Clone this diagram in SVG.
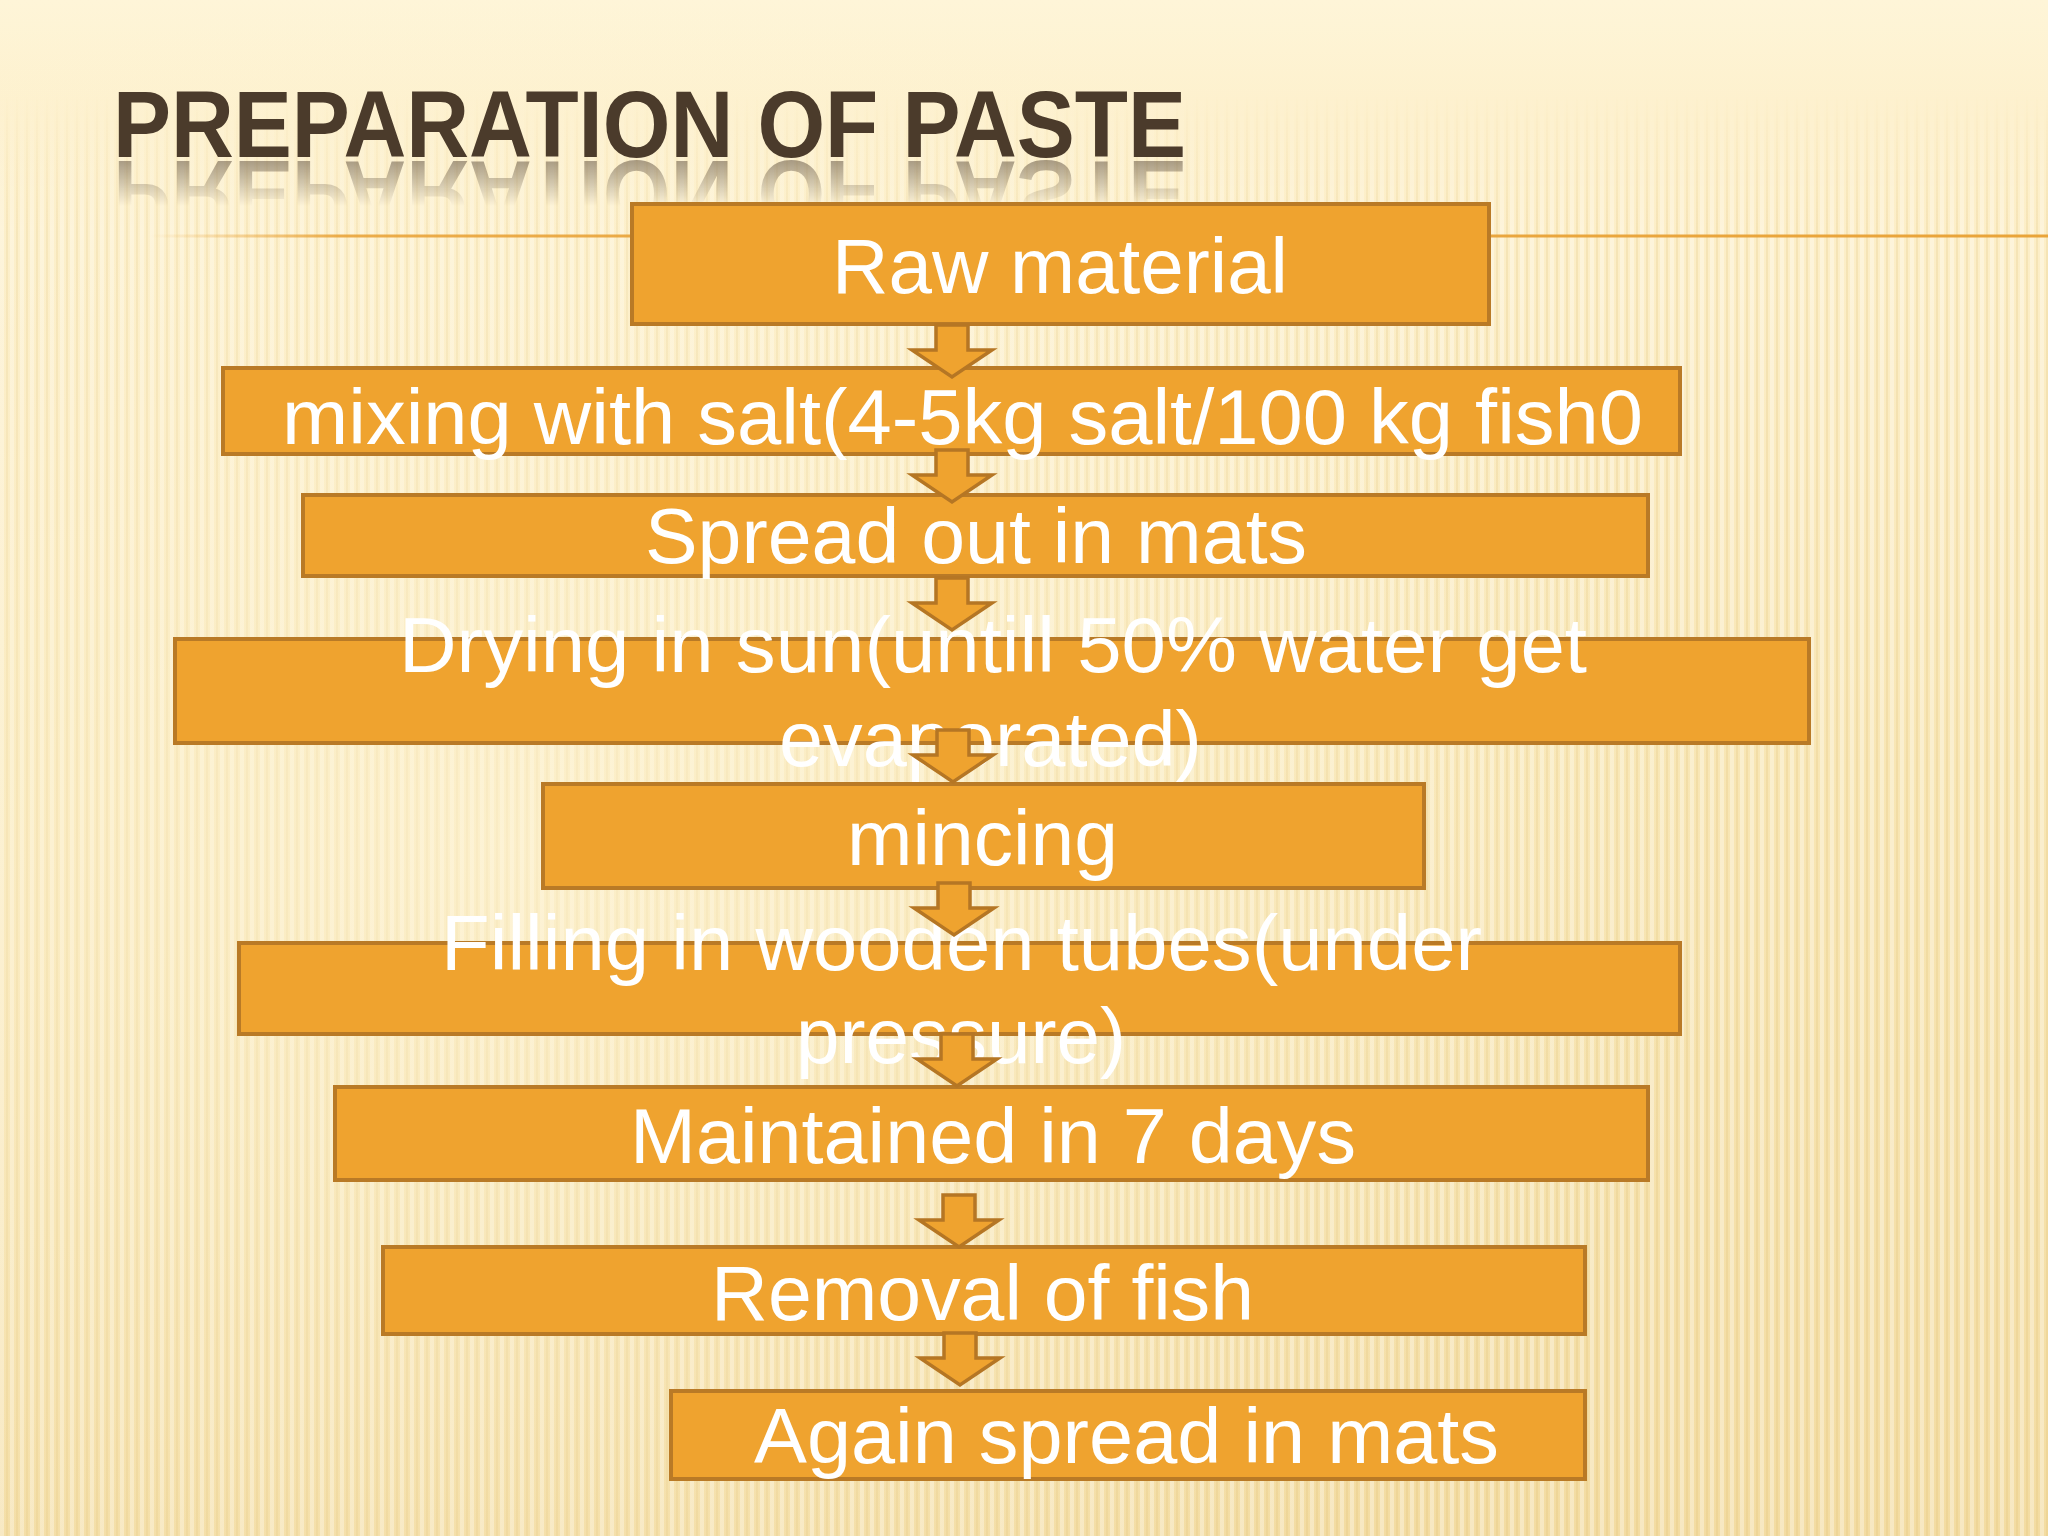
<svg xmlns="http://www.w3.org/2000/svg" xmlns:xlink="http://www.w3.org/1999/xlink" width="2048" height="1536" viewBox="0 0 2048 1536">
<defs>
<linearGradient id="bg" x1="0" y1="0" x2="0" y2="1">
<stop offset="0" stop-color="#FEF5D8"/>
<stop offset="0.08" stop-color="#FDF0CC"/>
<stop offset="0.5" stop-color="#F8E6B4"/>
<stop offset="1" stop-color="#F3DCA2"/>
</linearGradient>
<radialGradient id="glow" cx="0.25" cy="0.55" r="0.6">
<stop offset="0" stop-color="#FFF6DA" stop-opacity="0.6"/>
<stop offset="1" stop-color="#FFF6DA" stop-opacity="0"/>
</radialGradient>
<pattern id="stripes" width="10" height="40" patternUnits="userSpaceOnUse">
<rect x="0" y="0" width="4" height="40" fill="#FFFFFF" fill-opacity="0.35"/>
<rect x="6" y="0" width="2" height="40" fill="#D9B56A" fill-opacity="0.18"/>
</pattern>
<linearGradient id="stripeFade" x1="0" y1="0" x2="0" y2="1">
<stop offset="0" stop-color="#fff" stop-opacity="0"/>
<stop offset="0.06" stop-color="#fff" stop-opacity="0"/>
<stop offset="0.15" stop-color="#fff" stop-opacity="1"/>
<stop offset="1" stop-color="#fff" stop-opacity="1"/>
</linearGradient>
<mask id="stripeMask">
<rect width="2048" height="1536" fill="url(#stripeFade)"/>
</mask>
<linearGradient id="lineGrad" gradientUnits="userSpaceOnUse" x1="150" y1="0" x2="2048" y2="0">
<stop offset="0" stop-color="#E9A43A" stop-opacity="0"/>
<stop offset="0.1" stop-color="#E9A43A" stop-opacity="0.9"/>
<stop offset="1" stop-color="#E9A43A"/>
</linearGradient>
<linearGradient id="reflGrad" gradientUnits="userSpaceOnUse" x1="0" y1="158" x2="0" y2="206">
<stop offset="0" stop-color="#fff" stop-opacity="0.5"/>
<stop offset="1" stop-color="#fff" stop-opacity="0"/>
</linearGradient>
<mask id="reflMask" maskUnits="userSpaceOnUse" x="0" y="150" width="1300" height="70">
<rect x="0" y="158" width="1300" height="50" fill="url(#reflGrad)"/>
</mask>
<path id="arr" d="M-16,0 H16 V25 H40 L0,52 L-40,25 H-16 Z"/>
<style>
.box { fill: #EFA32F; stroke: #B97A26; stroke-width: 4; }
.lbl { font-family: "Liberation Sans", Arial, sans-serif; font-size: 78px; fill: #FFFFFF; text-anchor: start; }
.title { font-family: "Liberation Sans", Arial, sans-serif; font-weight: bold; font-size: 94px; fill: #4B3B2B; }
.arrow { fill: #EFA32F; stroke: #B57624; stroke-width: 3.5; stroke-linejoin: miter; }
</style>
</defs>

<g id="background">
<rect width="2048" height="1536" fill="url(#bg)"/>
<rect width="2048" height="1536" fill="url(#stripes)" mask="url(#stripeMask)"/>
<rect width="2048" height="1536" fill="url(#glow)"/>
</g>

<g id="title-group">
<text id="title" class="title" x="113" y="157" textLength="1073" lengthAdjust="spacingAndGlyphs">PREPARATION OF PASTE</text>
<g mask="url(#reflMask)">
<use xlink:href="#title" href="#title" transform="translate(0,318) scale(1,-1)"/>
</g>
<line x1="150" y1="236" x2="2048" y2="236" stroke="url(#lineGrad)" stroke-width="3"/>
</g>

<g id="node-raw">
<rect class="box" x="632" y="204" width="857" height="120"/>
<text class="lbl" x="832" y="293" textLength="456" lengthAdjust="spacingAndGlyphs">Raw material</text>
</g>

<g id="node-mixing">
<rect class="box" x="223" y="368" width="1457" height="86"/>
<text class="lbl" x="282" y="444" textLength="1361" lengthAdjust="spacingAndGlyphs">mixing with salt(4-5kg salt/100 kg fish0</text>
</g>

<g id="node-spread">
<rect class="box" x="303" y="495" width="1345" height="81"/>
<text class="lbl" x="645" y="563" textLength="662" lengthAdjust="spacingAndGlyphs">Spread out in mats</text>
</g>

<g id="node-drying">
<rect class="box" x="175" y="639" width="1634" height="104"/>
<text class="lbl" x="399" y="672" textLength="1188" lengthAdjust="spacingAndGlyphs">Drying in sun(untill 50% water get</text>
<text class="lbl" x="779" y="766" textLength="423" lengthAdjust="spacingAndGlyphs">evaporated)</text>
</g>

<g id="node-mincing">
<rect class="box" x="543" y="784" width="881" height="104"/>
<text class="lbl" x="847" y="865" textLength="271" lengthAdjust="spacingAndGlyphs">mincing</text>
</g>

<g id="node-filling">
<rect class="box" x="239" y="943" width="1441" height="91"/>
<text class="lbl" x="441" y="970" textLength="1041" lengthAdjust="spacingAndGlyphs">Filling in wooden tubes(under</text>
<text class="lbl" x="796" y="1063" textLength="330" lengthAdjust="spacingAndGlyphs">pressure)</text>
</g>

<g id="node-maintained">
<rect class="box" x="335" y="1087" width="1313" height="93"/>
<text class="lbl" x="630" y="1163" textLength="726" lengthAdjust="spacingAndGlyphs">Maintained in 7 days</text>
</g>

<g id="node-removal">
<rect class="box" x="383" y="1247" width="1202" height="87"/>
<text class="lbl" x="711" y="1320" textLength="543" lengthAdjust="spacingAndGlyphs">Removal of fish</text>
</g>

<g id="node-again">
<rect class="box" x="671" y="1391" width="914" height="88"/>
<text class="lbl" x="754" y="1463" textLength="745" lengthAdjust="spacingAndGlyphs">Again spread in mats</text>
</g>

<g id="connectors">
<use xlink:href="#arr" href="#arr" class="arrow" transform="translate(952,325)"/>
<use xlink:href="#arr" href="#arr" class="arrow" transform="translate(952,450)"/>
<use xlink:href="#arr" href="#arr" class="arrow" transform="translate(952,578)"/>
<use xlink:href="#arr" href="#arr" class="arrow" transform="translate(953,730)"/>
<use xlink:href="#arr" href="#arr" class="arrow" transform="translate(954,883)"/>
<use xlink:href="#arr" href="#arr" class="arrow" transform="translate(957,1034)"/>
<use xlink:href="#arr" href="#arr" class="arrow" transform="translate(959,1195)"/>
<use xlink:href="#arr" href="#arr" class="arrow" transform="translate(960,1333)"/>
</g>
</svg>
